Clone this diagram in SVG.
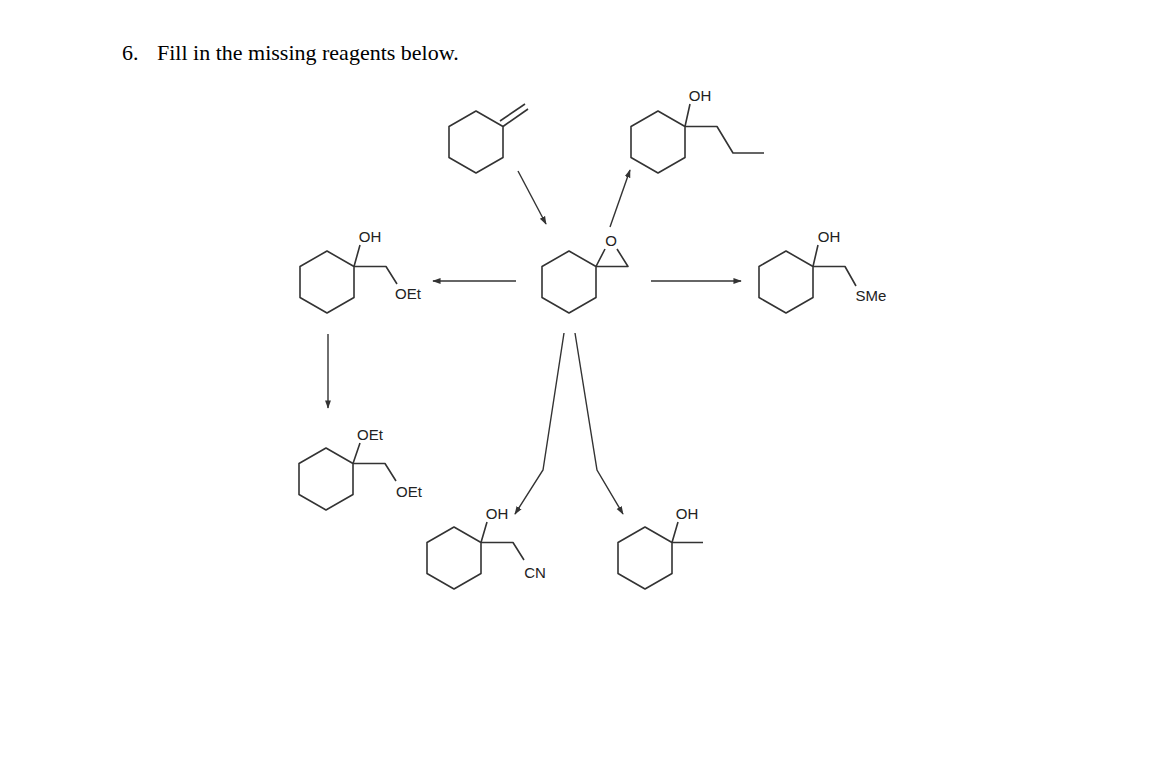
<svg xmlns="http://www.w3.org/2000/svg" width="1159" height="760" viewBox="0 0 1159 760">
<defs>
<style>
.b{fill:none;stroke:#333;stroke-width:1.6;stroke-linejoin:round}
.a{fill:none;stroke:#333;stroke-width:1.4}
.t{font-family:"Liberation Sans",Arial,sans-serif;font-size:15px;fill:#222;text-anchor:middle}
.h{font-family:"Liberation Serif","Times New Roman",serif;font-size:22px;fill:#000}
</style>
<marker id="ah" viewBox="0 0 10 10" refX="9" refY="5" markerWidth="6" markerHeight="6" orient="auto"><path d="M0,1.5 L10,5 L0,8.5 Z" fill="#333"/></marker>
<path id="hex" d="M0,-31 L27,-15.5 L27,15.5 L0,31 L-27,15.5 L-27,-15.5 Z"/>
</defs>
<rect width="1159" height="760" fill="#fff"/>
<text class="h" x="122" y="60">6.</text>
<text class="h" x="157" y="60">Fill in the missing reagents below.</text>
<g id="methylenecyclohexane">
<use href="#hex" x="476" y="142" class="b"/>
<line class="b" x1="503" y1="126.5" x2="528" y2="109"/>
<line class="b" x1="500" y1="121" x2="525" y2="104"/>
</g>
<g id="propyl-alcohol">
<use href="#hex" x="658" y="142" class="b"/>
<polyline class="b" points="690,104 685,126.5 717,126.5 733,153 764,153"/>
<text class="t" x="700" y="101">OH</text>
</g>
<g id="epoxide">
<use href="#hex" x="569" y="282" class="b"/>
<polyline class="b" points="605,249 596,266.5 628,266.5 617,249"/>
<text class="t" x="611" y="246">O</text>
</g>
<g id="ethoxy-alcohol">
<use href="#hex" x="327" y="282" class="b"/>
<polyline class="b" points="360,245 354,266.5 386,266.5 397,284"/>
<text class="t" x="370" y="242">OH</text>
<text class="t" x="408" y="299">OEt</text>
</g>
<g id="diethoxy">
<use href="#hex" x="326" y="479" class="b"/>
<polyline class="b" points="360,443 353,463.5 385,463.5 396,481"/>
<text class="t" x="370" y="440">OEt</text>
<text class="t" x="409" y="497">OEt</text>
</g>
<g id="thioether">
<use href="#hex" x="786" y="282" class="b"/>
<polyline class="b" points="818,245 813,266.5 845,266.5 856,286"/>
<text class="t" x="829" y="242">OH</text>
<text class="t" x="871" y="301">SMe</text>
</g>
<g id="nitrile">
<use href="#hex" x="454" y="558" class="b"/>
<polyline class="b" points="487,522 481,542.5 513,542.5 524,560"/>
<text class="t" x="497" y="519">OH</text>
<text class="t" x="535" y="578">CN</text>
</g>
<g id="methyl-alcohol">
<use href="#hex" x="645" y="558" class="b"/>
<polyline class="b" points="678,522 672,542.5 703,542.5"/>
<text class="t" x="687" y="519">OH</text>
</g>
<g id="connectors">
<line class="a" x1="518" y1="171" x2="546" y2="224" marker-end="url(#ah)"/>
<line class="a" x1="610" y1="227" x2="630" y2="170" marker-end="url(#ah)"/>
<line class="a" x1="516" y1="281" x2="433" y2="281" marker-end="url(#ah)"/>
<line class="a" x1="651" y1="281" x2="741" y2="281" marker-end="url(#ah)"/>
<line class="a" x1="328" y1="334" x2="328" y2="408" marker-end="url(#ah)"/>
<polyline class="a" points="564,333 543,470 515,514" marker-end="url(#ah)"/>
<polyline class="a" points="575,333 597,470 623,514" marker-end="url(#ah)"/>
</g>
</svg>
